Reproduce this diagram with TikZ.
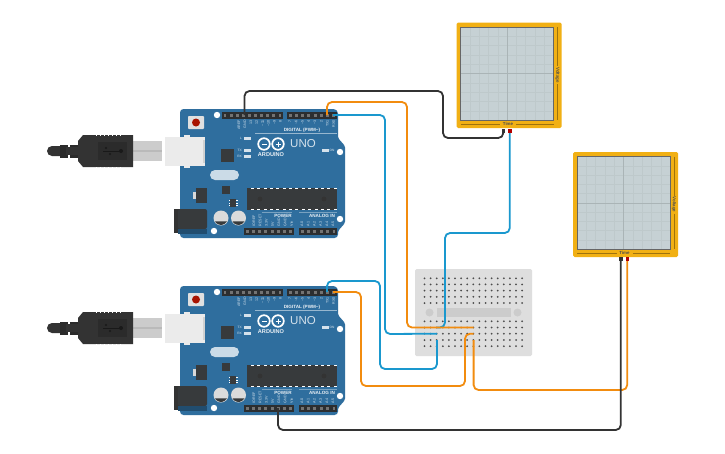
\documentclass[tikz,border=0pt]{standalone}
\usepackage{fontspec}
\setmainfont{Liberation Sans}
\definecolor{boardc}{HTML}{2F6E9E}
\definecolor{wireo}{HTML}{F28C0F}
\definecolor{wireb}{HTML}{1A98CE}
\definecolor{wirek}{HTML}{333333}
\definecolor{scopey}{HTML}{F1B014}
\definecolor{screenc}{HTML}{C6D1D4}
\definecolor{darkic}{HTML}{373A3C}
\definecolor{plugc}{HTML}{333333}
\tikzset{
  wire/.style={line width=1.8pt,rounded corners=5pt},
  pinlabel/.style={text=white!80!boardc,font=\fontsize{3.6}{4}\selectfont,rotate=90,anchor=east,inner sep=0pt},
  silk/.style={text=white!90!boardc,font=\fontsize{4.6}{5}\selectfont\bfseries,inner sep=0pt},
  ledbox/.style={fill=white!80!boardc,draw=none,minimum width=7pt,minimum height=3pt,inner sep=0pt},
  ledtext/.style={text=white!85!boardc,font=\fontsize{3.2}{4}\selectfont,inner sep=0pt},
  holewhite/.style={fill=white,draw=none},
  scopetext/.style={text=black!70,font=\fontsize{4.4}{5}\selectfont\bfseries,inner sep=1pt},
  bbhole/.style={fill=black!70,draw=none},
}
\newcommand{\hdr}[4]{% x0, y0, pins, step
  \fill[darkic!80!black] (#1,#2) rectangle ++({#3*#4},6.5);
  \foreach \k in {1,...,#3}{\fill[black!55] ({#1+(\k-0.5)*#4-1.4},#2+1.9) rectangle ++(2.8,2.8);}
}
\newcommand{\board}[2]{% prefix, y shift
\begin{scope}[shift={(0,#2)}]
  % USB plug
  \fill[black!20] (133,141) rectangle (162,161);
  \fill[black!27] (133,150) rectangle (162,152);
  \fill[plugc] (52,146) arc[start angle=270,end angle=90,radius=5] -- (60,156) -- (60,146) -- cycle;
  \fill[plugc] (58,147) rectangle (66,155);
  \fill[plugc!85!black] (60,144.5) rectangle (68,157.5);
  \fill[plugc!85!black] (70,144.5) rectangle (78,157.5);
  \fill[plugc] (66,147) rectangle (80,155);
  \fill[plugc] (78,141) -- (83,135) -- (133,135) -- (133,167) -- (83,167) -- (78,161) -- cycle;
  \foreach \q in {96,100,...,120}{\fill[white!80] (\q,135) rectangle ++(1.4,.5);\fill[white!80] (\q,166.5) rectangle ++(1.4,.5);}
  \fill[black!90,opacity=.3] (98,142) rectangle (127,160);
  \draw[black!90,line width=.7pt] (103,151) -- (121,151);
  \fill[black!90] (121,151) circle (2);
  \fill[black!90] (106,148) circle (1.1);
  \fill[black!90] (110,154) circle (1.1);
  % board
  \fill[boardc,rounded corners=1.5pt] (180,111) -- (182,109) -- (335,109) -- (338,112) -- (338,138) -- (345,146) -- (345,223) -- (338,231) -- (338,236) -- (336,238) -- (182,238) -- (180,236) -- cycle;
  \fill[black!8] (165,137) rectangle (205,166);
  \fill[black!8] (184,135) rectangle (190,168);
  \fill[black!18] (203,140) rectangle (205,163);
  % headers
  \hdr{222}{112}{10}{6.1}
  \hdr{287}{112}{8}{6.25}
  \hdr{244}{228}{8}{6.25}
  \hdr{299}{228}{6}{6.35}
  % mounting holes
  \fill[holewhite] (217,115) circle (3.2);
  \fill[holewhite] (340,152) circle (3.2);
  \fill[holewhite] (340,219) circle (3.2);
  \fill[holewhite] (214,231) circle (3.2);
  % reset
  \fill[black!12,rounded corners=.8pt] (188,116) rectangle (204,129);
  \fill[red!60!black!85!orange] (196,122.5) circle (4);
  % chips
  \fill[darkic] (221,149) rectangle (234,162);
  \fill[darkic] (222,186) rectangle (230,194);
  \fill[white!75!boardc,rounded corners=5pt] (210,170) rectangle (239,180);
  \fill[darkic] (196,188) rectangle (207,203);
  \fill[black!15] (193,192) rectangle (196,199);
  \fill[darkic] (230,199) rectangle (236,207);
  \foreach \q in {200.5,203,205.5}{\fill[white!80] (228.5,\q-.5) rectangle ++(1.5,1);\fill[white!80] (236,\q-.5) rectangle ++(1.5,1);}
  % DIP
  \fill[darkic] (247,188) rectangle (337,210);
  \foreach \q in {0,...,13}{\fill[white!85] ({251+\q*6.35},188) rectangle ++(3,.8);\fill[white!85] ({251+\q*6.35},209.2) rectangle ++(3,.8);}
  \fill[black!80] (260,199) circle (2.4);
  \fill[black!80] (324,199) circle (2.4);
  % power jack
  \fill[black!80] (174,209) rectangle (181,233);
  \fill[darkic,rounded corners=2pt] (178,209) rectangle (207,229);
  \fill[boardc!70!black] (178,229) rectangle (207,234);
  % capacitors
  \foreach \cx in {221,238.5}{
    \fill[black!14] (\cx,218) circle (7.5);
    \fill[darkic] (\cx-6,221.46) arc[start angle=150,end angle=30,radius=6.93] -- cycle;
  }
  % LEDs
  \node[ledbox] at (247,138.5) {};
  \node[ledbox] at (247,150) {};
  \node[ledbox] at (247,156) {};
  \node[ledbox] at (325,150) {};
  \node[ledtext,anchor=east] at (242,138.5) {L};
  \node[ledtext,anchor=east] at (242,150) {TX};
  \node[ledtext,anchor=east] at (242,156) {RX};
  \node[ledtext,anchor=west] at (329.5,150) {ON};
  % logo
  \draw[white,line width=1.7pt] (264,144) circle (5.8);
  \draw[white,line width=1.7pt] (278,144) circle (5.8);
  \draw[white,line width=.8pt] (261.5,144) -- (266.5,144);
  \draw[white,line width=.8pt] (275.5,144) -- (280.5,144) (278,141.5) -- (278,146.5);
  \node[silk,font=\fontsize{5.6}{6}\selectfont\bfseries] at (271,154.5) {ARDUINO};
  \node[text=white!80!boardc,font=\fontsize{11.5}{12}\selectfont,inner sep=0pt] at (303,144) {UNO};
  % silk
  \node[silk] at (302,130) {DIGITAL (PWM\textasciitilde)};
  \draw[white!50!boardc,line width=.4pt] (255,132.7) -- (337,132.7);
  \node[silk] at (283,215.5) {POWER};
  \node[silk] at (322,215.5) {ANALOG IN};
  \draw[white!35!boardc,line width=.5pt] (262,212.5) -- (292,212.5) (299,212.5) -- (337,212.5);
  \foreach \t [count=\i from 0] in {AREF,GND,13,12,\textasciitilde 11,\textasciitilde 10,\textasciitilde 9,8}{
    \node[pinlabel] at ({239+\i*5.9},120) {\t};}
  \foreach \t [count=\i from 0] in {7,\textasciitilde 6,\textasciitilde 5,4,\textasciitilde 3,2,TX1,RX0}{
    \node[pinlabel] at ({290+\i*6.25},120) {\t};}
  \foreach \t [count=\i from 0] in {IOREF,RESET,3.3V,5V,GND,GND,Vin}{
    \node[pinlabel,anchor=west] at ({254+\i*6.25},226.5) {\t};}
  \foreach \t [count=\i from 0] in {A0,A1,A2,A3,A4,A5}{
    \node[pinlabel,anchor=west] at ({302+\i*6.2},226.5) {\t};}
  % pin coordinates
  \coordinate (#1gnd) at (244.5,115);
  \coordinate (#1tx) at (327,115);
  \coordinate (#1rx) at (333,115);
  \coordinate (#1pgnd) at (278,231);
\end{scope}}
\newcommand{\scopeview}[5]{% prefix, left, top, right, bottom
  \fill[scopey,rounded corners=1.5pt] (#2,#3) rectangle (#4,#5);
  \fill[screenc] ({#2+4},{#3+4.5}) rectangle ({#4-8},{#5-8});
  \foreach \q in {1,...,9}{
    \draw[black!4!screenc,line width=.3pt] ({#2+4+\q*(#4-#2-12)/10},{#3+4.5}) -- ({#2+4+\q*(#4-#2-12)/10},{#5-8});
    \draw[black!4!screenc,line width=.3pt] ({#2+4},{#3+4.5+\q*(#5-#3-12.5)/10}) -- ({#4-8},{#3+4.5+\q*(#5-#3-12.5)/10});
  }
  \draw[black!14!screenc,line width=.5pt] ({(#2+#4-4)/2},{#3+4.5}) -- ({(#2+#4-4)/2},{#5-8});
  \draw[black!14!screenc,line width=.5pt] ({#2+4},{(#3+#5-3.5)/2}) -- ({#4-8},{(#3+#5-3.5)/2});
  \draw[black!60,line width=1pt] ({#2+4},{#3+4.5}) rectangle ({#4-8},{#5-8});
  \draw[scopey!65!black,line width=.4pt] ({#2+4},{#5-4}) -- ({(#2+#4)/2-9},{#5-4});
  \draw[scopey!65!black,line width=.4pt] ({(#2+#4)/2+7},{#5-4}) -- ({#4-8},{#5-4});
  \draw[scopey!65!black,line width=.4pt] ({#4-4},{#3+4.5}) -- ({#4-4},{(#3+#5)/2-9});
  \draw[scopey!65!black,line width=.4pt] ({#4-4},{(#3+#5)/2+9}) -- ({#4-4},{#5-8});
  \node[scopetext] (#1time) at ({(#2+#4)/2-1},{#5-4}) {Time};
  \node[scopetext,rotate=270] (#1volt) at ({#4-4},{(#3+#5)/2}) {Voltage};
}
\begin{document}
\begin{tikzpicture}[x=1pt,y=-1pt]
\useasboundingbox (0,0) rectangle (725,453);
\fill[white] (0,0) rectangle (725,453);
% scopes
\scopeview{sa}{456.5}{22.5}{561.5}{128}
\scopeview{sb}{573}{152}{678}{257}
\coordinate (sablack) at (503.3,131);
\coordinate (sared) at (509.8,131);
\coordinate (sbblack) at (620.8,260);
\coordinate (sbred) at (627.2,260);
% breadboard
\fill[black!13,rounded corners=1.5pt] (415,269) rectangle (532,356);
\fill[black!20] (437,308) rectangle (511,316.7);
\fill[black!20] (429.5,312.5) circle (4);
\fill[black!20] (517.5,312.5) circle (4);
\foreach \ry in {278.3,284.4,290.6,296.8,303,321.3,327.5,333.7,340,346.2}{
  \foreach \c in {0,...,16}{\fill[bbhole] ({424.5+\c*6.1},\ry) circle (1);}}
\coordinate (bbA) at (437,327.5);
\coordinate (bbB) at (437,333.7);
\coordinate (bbC) at (437,340);
\coordinate (bbD) at (473.6,327.5);
\coordinate (bbE) at (473.6,333.7);
\coordinate (bbF) at (473.6,340);
% boards
\board{a}{0}
\board{b}{177}
% wires
\draw[wire,wirek] (agnd) -- (244.5,91) -- (443,91) -- (443,138) -- (503.3,138) -- (sablack);
\draw[wire,wireb] (sared) -- (509.8,233) -- (445,233) -- (445,327.5) -- (bbA);
\draw[wire,wireb] (arx) -- (385,115) -- (385,334) -- (bbB);
\draw[wire,wireo] (atx) -- (327,102) -- (407,102) -- (407,327.5) -- (bbD);
\draw[wire,wireb] (btx) -- (327,281) -- (380,281) -- (380,369) -- (437,369) -- (bbC);
\draw[wire,wireo] (brx) -- (361,292) -- (361,386) -- (465,386) -- (465,333.7) -- (bbE);
\draw[wire,wireo] (bbF) -- (473.6,390) -- (627.2,390) -- (sbred);
\draw[wire,wirek] (bpgnd) -- (278,430) -- (620.8,430) -- (sbblack);
% scope terminals
\fill[black!80] (501.5,128.5) rectangle (505,132.5);
\fill[red!70!black] (508,128.5) rectangle (511.5,132.5);
\fill[black!80] (619,257) rectangle (622.5,261);
\fill[red!70!black] (625.5,257) rectangle (629,261);
\end{tikzpicture}
\end{document}
